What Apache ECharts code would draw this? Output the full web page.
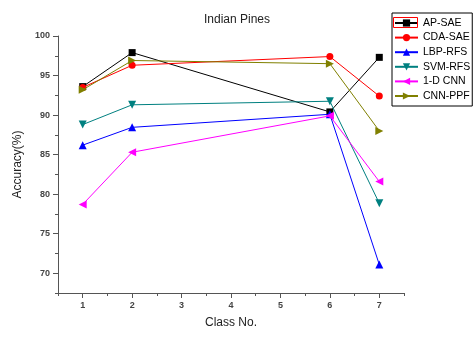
<!DOCTYPE html>
<html><head><meta charset="utf-8">
<script src="https://cdn.jsdelivr.net/npm/echarts@6/dist/echarts.min.js"></script>
<style>html,body{margin:0;padding:0;background:#fff}#c{width:474px;height:338px}</style>
</head><body><div id="c"></div>
<script>
const classes = [1, 2, 6, 7];
const apSae  = [93.6, 97.9, 90.4, 97.3];
const cdaSae = [93.5, 96.3, 97.4, 92.4];
const lbpRfs = [86.2, 88.45, 90.1, 71.1];
const svmRfs = [88.8, 91.3, 91.75, 78.85];
const cnn1d  = [78.7, 85.3, 89.9, 81.6];
const cnnPpf = [93.2, 96.9, 96.5, 88.0];
const yTicks = [70, 75, 80, 85, 90, 95, 100];
const xTicks = [1, 2, 3, 4, 5, 6, 7];

const names = ['AP-SAE','CDA-SAE','LBP-RFS','SVM-RFS','1-D CNN','CNN-PPF'];
const vals = [apSae, cdaSae, lbpRfs, svmRfs, cnn1d, cnnPpf];
const colors = ['#000000','#ff0000','#0000ff','#008080','#ff00ff','#808000'];
const symbols = ['rect','circle','triangle','path://M0,0 L10,0 L5,10 Z','path://M10,0 L10,10 L0,5 Z','path://M0,0 L10,5 L0,10 Z'];
const sizes = [7,7,8,8,8,8];

const font = 'Liberation Sans, Arial, sans-serif';
const axisColor = '#555';
const grid = {left: 58, top: 36, width: 346, height: 257};

const series = names.map((n, i) => ({
  name: n, type: 'line',
  data: classes.map((c, j) => [c, vals[i][j]]),
  symbol: symbols[i], symbolSize: sizes[i],
  itemStyle: {color: colors[i]},
  lineStyle: {color: colors[i], width: 1},
  z: 2 + i
}));

const chart = echarts.init(document.getElementById('c'), null, {renderer: 'canvas'});
chart.setOption({
  animation: false,
  backgroundColor: '#fff',
  title: {text: 'Indian Pines', left: 232, textAlign: 'center', top: 9,
    textStyle: {fontFamily: font, fontSize: 12, fontWeight: 'normal', color: '#222'}},
  grid: grid,
  legend: {
    orient: 'vertical', left: 392, top: 13, padding: [4.5, 2, 4.5, 2],
    borderColor: '#000', borderWidth: 1, itemWidth: 23, itemHeight: 9, itemGap: 3.6,
    textStyle: {fontFamily: font, fontSize: 10.5, color: '#000'},
    data: names
  },
  xAxis: [{
    type: 'value', min: 0.5, max: 7.5,
    name: 'Class No.', nameLocation: 'middle', nameGap: 24,
    nameTextStyle: {fontFamily: font, fontSize: 12, color: '#222'},
    axisLine: {lineStyle: {color: axisColor, width: 1}},
    axisTick: {customValues: xTicks, length: 5, lineStyle: {color: axisColor}},
    axisLabel: {customValues: xTicks, margin: 8, fontFamily: font, fontSize: 9, fontWeight: 'bold', color: '#444'},
    splitLine: {show: false}
  }, {
    type: 'value', min: 0.5, max: 7.5, interval: 0.5, position: 'bottom', offset: 0,
    axisLine: {show: false}, axisLabel: {show: false},
    axisTick: {length: 3, lineStyle: {color: axisColor}}, splitLine: {show: false}
  }],
  yAxis: [{
    type: 'value', min: 67.5, max: 100,
    name: 'Accuracy(%)', nameLocation: 'middle', nameGap: 33, nameRotate: 90,
    nameTextStyle: {fontFamily: font, fontSize: 12, color: '#222'},
    axisLine: {show: true, lineStyle: {color: axisColor, width: 1}},
    axisTick: {show: true, customValues: yTicks, length: 5, lineStyle: {color: axisColor}},
    axisLabel: {customValues: yTicks, margin: 8, fontFamily: font, fontSize: 9, fontWeight: 'bold', color: '#444'},
    splitLine: {show: false}
  }, {
    type: 'value', min: 67.5, max: 100, interval: 2.5, position: 'left', offset: 0,
    axisLine: {show: false}, axisLabel: {show: false},
    axisTick: {show: true, length: 3, lineStyle: {color: axisColor}}, splitLine: {show: false}
  }],
  graphic: [{
    type: 'rect', shape: {x: 393.5, y: 17.5, width: 24, height: 10},
    style: {fill: 'none', stroke: '#ff0000', lineWidth: 1}, z: 100
  }],
  series: series
});
</script></body></html>
